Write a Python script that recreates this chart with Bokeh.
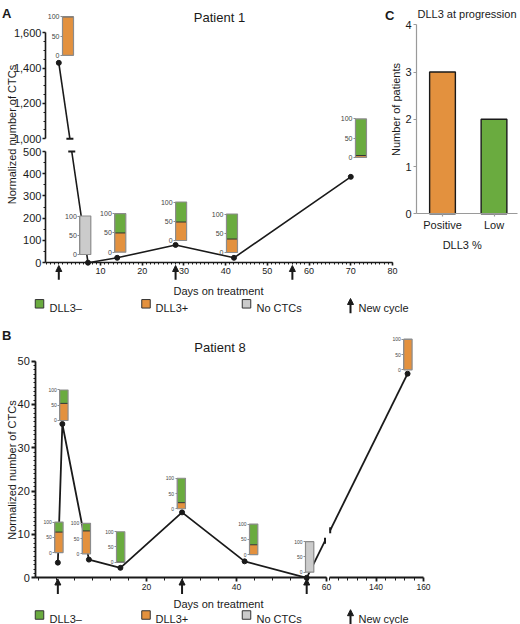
import numpy as np
from bokeh.plotting import figure
from bokeh.models import (Range1d, LinearAxis, FixedTicker, NumeralTickFormatter,
                          Arrow, NormalHead)
from bokeh.core.properties import value
from bokeh.embed import file_html
from bokeh.resources import INLINE

# ---------------- data ----------------
# Patient 1
p1_days = [0, 7, 14, 28, 42, 70]
p1_ctcs = [1430, 0, 22, 80, 22, 386]
p1_dll3_pos = [100, 0, 50, 48, 35, 5]          # % DLL3+ CTCs
p1_no_ctcs = [False, True, False, False, False, False]
p1_cycles = [0, 28, 56]

# Patient 8
p8_days = [0.3, 1.3, 7.2, 14.2, 27.9, 41.8, 55.6, 153.3]
p8_ctcs = [3.5, 35.5, 4.2, 2.3, 15.1, 3.8, 0, 47.1]
p8_dll3_pos = [67, 56, 75, 0, 20, 32, 0, 100]
p8_no_ctcs = [False, False, False, False, False, False, True, False]
p8_cycles = [0.3, 27.9, 55.6]

# DLL3 at progression
c_groups = ["Positive", "Low"]
c_patients = [3, 2]

# tick labels
a_xticks = [10, 20, 30, 40, 50, 60, 70, 80]
a_lo_ticks = [0, 100, 200, 300, 400, 500]
a_hi_ticks = [1000, 1200, 1400, 1600]
b_yticks = [0, 10, 20, 30, 40, 50]
b_xticks_lo = [20, 40, 60]
b_xticks_hi = [140, 160]
c_yticks = [0, 1, 2, 3, 4]
inset_ticks = [0, 50, 100]
legend_labels = ["DLL3\u2013", "DLL3+", "No CTCs", "New cycle"]

# ---------------- styles / geometry ----------------
W, H = 520, 624
FONT = "Liberation Sans"
GREEN = "#6aab3f"
ORANGE = "#e3913e"
GREY = "#cbcbcb"
INK = "#1a1a1a"
FRAME = "#8c8c8c"

# scale anchors: name -> (value, pixel from top-left, pixels per unit)
SC = {
    "ax": (0, 58.3, 4.171),
    "ayl": (0, 262.2, 0.2224),
    "ayh": (1000, 138.3, 0.17667),
    "bxl": (0, 56.0, 4.5),
    "bxh": (120, 328.0, 2.375),
    "by": (0, 577.3, 4.333),
    "cx": (1, 442.0, 51.5),
    "cy": (0, 213.3, 47.25),
}
A_XMIN, B_XMIN = -3.2, -4.6


def to_px(n, v):
    v0, p0, s = SC[n]
    return p0 + (v - v0) * s


def to_py(n, v):
    v0, p0, s = SC[n]
    return p0 - (v - v0) * s


def from_px(n, x):
    v0, p0, s = SC[n]
    return v0 + (x - p0) / s


def from_py(n, y):
    v0, p0, s = SC[n]
    return v0 + (p0 - y) / s


def xrng(n):
    return Range1d(from_px(n, 0), from_px(n, W))


def yrng(n):
    return Range1d(from_py(n, H), from_py(n, 0))


p = figure(width=W, height=H, output_backend="svg", toolbar_location=None,
           x_axis_type=None, y_axis_type=None, title=None,
           x_range=Range1d(0, W), y_range=Range1d(0, H),
           min_border=0, outline_line_color=None,
           background_fill_color="white", border_fill_color="white")

xr = {n: xrng(n) for n in ["ax", "bxl", "bxh", "cx"]}
yr = {n: yrng(n) for n in ["ayl", "ayh", "by", "cy"]}


def style_axis(ax, size, color=INK, lw=1.6, tick_out=3, minor_out=2, standoff=1, label_color=INK):
    ax.axis_line_color = color
    ax.axis_line_width = lw
    ax.major_tick_line_color = color
    ax.major_tick_line_width = lw
    ax.major_tick_out = tick_out
    ax.major_tick_in = 0
    ax.minor_tick_line_color = color
    ax.minor_tick_line_width = 1
    ax.minor_tick_out = minor_out
    ax.minor_tick_in = 0
    ax.major_label_text_font = FONT
    ax.major_label_text_font_size = f"{size}px"
    ax.major_label_text_color = label_color
    ax.major_label_standoff = standoff


def txt(x, y, s, size, align="left", baseline="alphabetic", bold=False, angle=0.0, color=INK):
    # x, y: layout position measured from the top-left corner of the page
    p.text(x=[x], y=[H - y], text=[s], text_font=value(FONT), text_font_size=f"{size}px",
           text_align=align, text_baseline=baseline,
           text_font_style="bold" if bold else "normal", angle=angle, text_color=color)


def interp(pa, pb, t):
    return pa[0] + t * (pb[0] - pa[0]), pa[1] + t * (pb[1] - pa[1])


def inset(xn, yn, day, val, dx, dy, w, h, pct, no_ctc, name, lab_size):
    bx = to_px(xn, day) + dx
    bb = to_py(yn, val) - dy
    SC[name] = (0, bb, h / 100.0)
    yr[name] = yrng(name)
    left, right = from_px(xn, bx), from_px(xn, bx + w)
    kw = dict(x_range_name=xn, y_range_name=name)
    if no_ctc:
        p.quad(left=[left], right=[right], bottom=[0], top=[100], fill_color=GREY,
               line_color=None, **kw)
    else:
        p.quad(left=[left], right=[right], bottom=[0], top=[pct], fill_color=ORANGE,
               line_color=None, **kw)
        p.quad(left=[left], right=[right], bottom=[pct], top=[100], fill_color=GREEN,
               line_color=None, **kw)
        p.segment(x0=[left], y0=[pct], x1=[right], y1=[pct], line_color="#333333",
                  line_width=1, **kw)
    p.quad(left=[left], right=[right], bottom=[0], top=[100], fill_color=None,
           line_color=FRAME, line_width=1.2, **kw)
    ax = LinearAxis(x_range_name=xn, y_range_name=name, fixed_location=left,
                    bounds=(0, 100), ticker=FixedTicker(ticks=inset_ticks, minor_ticks=[]))
    style_axis(ax, lab_size, color=FRAME, lw=1, tick_out=2, standoff=1, label_color="#444444")
    p.add_layout(ax, "left")


# ======================= Panel A: Patient 1 =======================
hi = [v > 750 for v in p1_ctcs]
pa = (to_px("ax", p1_days[0]), to_py("ayh", p1_ctcs[0]))
pb = (to_px("ax", p1_days[1]), to_py("ayl", p1_ctcs[1]))
t_hi = (to_py("ayh", 1000) - pa[1]) / (pb[1] - pa[1])
t_lo = (to_py("ayl", 500) - pa[1]) / (pb[1] - pa[1])
brk_hi_day = from_px("ax", interp(pa, pb, t_hi)[0])
brk_lo_day = from_px("ax", interp(pa, pb, t_lo)[0])

p.line([p1_days[0], brk_hi_day], [p1_ctcs[0], 1000], x_range_name="ax", y_range_name="ayh",
       line_color=INK, line_width=1.6)
p.line([brk_lo_day] + p1_days[1:], [500] + p1_ctcs[1:], x_range_name="ax", y_range_name="ayl",
       line_color=INK, line_width=1.6)
p.scatter([brk_hi_day], [1000], marker="dash", size=7, line_width=2, line_color=INK,
          x_range_name="ax", y_range_name="ayh")
p.scatter([brk_lo_day], [500], marker="dash", size=7, line_width=2, line_color=INK,
          x_range_name="ax", y_range_name="ayl")
p.scatter([d for d, h_ in zip(p1_days, hi) if h_], [v for v, h_ in zip(p1_ctcs, hi) if h_],
          size=5, color=INK, x_range_name="ax", y_range_name="ayh")
p.scatter([d for d, h_ in zip(p1_days, hi) if not h_], [v for v, h_ in zip(p1_ctcs, hi) if not h_],
          size=5, color=INK, x_range_name="ax", y_range_name="ayl")

A_dx = [3.7, -8.2, -2.4, 0.0, -7.5, 4.7]
A_dy = [7.5, 8.2, 5.6, 4.4, 5.3, 19.4]
for i in range(len(p1_days)):
    inset("ax", "ayh" if hi[i] else "ayl", p1_days[i], p1_ctcs[i], A_dx[i], A_dy[i], 11, 38.5,
          p1_dll3_pos[i], p1_no_ctcs[i], f"iA{i}", 7)

ax = LinearAxis(x_range_name="ax", y_range_name="ayl", fixed_location=0, bounds=(A_XMIN, 80),
                ticker=FixedTicker(ticks=a_xticks, minor_ticks=list(range(-3, 81))))
style_axis(ax, 9, standoff=2)
p.add_layout(ax, "below")
ax = LinearAxis(x_range_name="ax", y_range_name="ayl", fixed_location=A_XMIN, bounds=(0, 500),
                ticker=FixedTicker(ticks=a_lo_ticks, minor_ticks=[50, 150, 250, 350, 450]))
style_axis(ax, 11)
p.add_layout(ax, "left")
ax = LinearAxis(x_range_name="ax", y_range_name="ayh", fixed_location=A_XMIN, bounds=(1000, 1600),
                ticker=FixedTicker(ticks=a_hi_ticks,
                                   minor_ticks=[1050, 1100, 1150, 1250, 1300, 1350, 1450, 1500, 1550]),
                formatter=NumeralTickFormatter(format="0,0"))
style_axis(ax, 11)
p.add_layout(ax, "left")

for d in p1_cycles:
    p.add_layout(Arrow(end=NormalHead(size=6, fill_color=INK, line_color=INK, line_width=1),
                       x_start=d, y_start=from_py("ayl", 279.3), x_end=d, y_end=from_py("ayl", 265),
                       x_range_name="ax", y_range_name="ayl", line_width=2, line_color=INK))

# ======================= Panel B: Patient 8 =======================
n_lo = 7
qa = (to_px("bxl", p8_days[6]), to_py("by", p8_ctcs[6]))
qb = (to_px("bxh", p8_days[7]), to_py("by", p8_ctcs[7]))
x_end_lo = to_px("bxl", 60) - 1.5
x_beg_hi = to_px("bxh", 120.5) + 0.5
lo_pt = interp(qa, qb, (x_end_lo - qa[0]) / (qb[0] - qa[0]))
hi_pt = interp(qa, qb, (x_beg_hi - qa[0]) / (qb[0] - qa[0]))
brk_lo = (from_px("bxl", lo_pt[0]), from_py("by", lo_pt[1]))
brk_hi = (from_px("bxh", hi_pt[0]), from_py("by", hi_pt[1]))

p.line(p8_days[:n_lo] + [brk_lo[0]], p8_ctcs[:n_lo] + [brk_lo[1]], x_range_name="bxl",
       y_range_name="by", line_color=INK, line_width=1.8)
p.line([brk_hi[0], p8_days[7]], [brk_hi[1], p8_ctcs[7]], x_range_name="bxh", y_range_name="by",
       line_color=INK, line_width=1.8)
p.scatter([brk_lo[0]], [brk_lo[1]], marker="dash", angle=np.pi / 2, size=6, line_width=2,
          line_color=INK, x_range_name="bxl", y_range_name="by")
p.scatter([brk_hi[0]], [brk_hi[1]], marker="dash", angle=np.pi / 2, size=6, line_width=2,
          line_color=INK, x_range_name="bxh", y_range_name="by")
p.scatter(p8_days[:n_lo], p8_ctcs[:n_lo], size=5, color=INK, x_range_name="bxl", y_range_name="by")
p.scatter(p8_days[n_lo:], p8_ctcs[n_lo:], size=5, color=INK, x_range_name="bxh", y_range_name="by")

B_dx = [-3.05, -2.6, -6.7, -3.9, -4.9, 4.9, -1.2, -3.8]
B_dy = [10.1, 3.5, 5.8, 5.6, 3.6, 6.8, 5.6, 3.9]
for i in range(len(p8_days)):
    inset("bxl" if i < n_lo else "bxh", "by", p8_days[i], p8_ctcs[i], B_dx[i], B_dy[i], 8.3, 30.5,
          p8_dll3_pos[i], p8_no_ctcs[i], f"iB{i}", 5)

ax = LinearAxis(x_range_name="bxl", y_range_name="by", fixed_location=B_XMIN, bounds=(0, 50),
                ticker=FixedTicker(ticks=b_yticks, minor_ticks=list(range(0, 51))))
style_axis(ax, 11, lw=1.8, tick_out=4, minor_out=2, standoff=2)
p.add_layout(ax, "left")
ax = LinearAxis(x_range_name="bxl", y_range_name="by", fixed_location=0, bounds=(B_XMIN, 60),
                ticker=FixedTicker(ticks=b_xticks_lo, minor_ticks=list(range(-4, 61, 4))))
style_axis(ax, 8.5, lw=1.8, tick_out=4, minor_out=3, standoff=2)
p.add_layout(ax, "below")
ax = LinearAxis(x_range_name="bxh", y_range_name="by", fixed_location=0, bounds=(120.5, 160),
                ticker=FixedTicker(ticks=b_xticks_hi, minor_ticks=[120.5] + list(range(124, 160, 4))))
style_axis(ax, 8.5, lw=1.8, tick_out=4, minor_out=3, standoff=2)
p.add_layout(ax, "below")

for d in p8_cycles:
    p.add_layout(Arrow(end=NormalHead(size=6, fill_color=INK, line_color=INK, line_width=1),
                       x_start=d, y_start=from_py("by", 593.5), x_end=d, y_end=from_py("by", 578.5),
                       x_range_name="bxl", y_range_name="by", line_width=2, line_color=INK))

# ======================= Panel C: DLL3 at progression =======================
c_x = [1, 2]
p.vbar(x=c_x, top=c_patients, width=0.5, bottom=0, fill_color=[ORANGE, GREEN],
       line_color=INK, line_width=1.4, x_range_name="cx", y_range_name="cy")
c_left = from_px("cx", 416)
ax = LinearAxis(x_range_name="cx", y_range_name="cy", fixed_location=c_left, bounds=(0, 4),
                ticker=FixedTicker(ticks=c_yticks, minor_ticks=[]))
style_axis(ax, 11, color="#9a9a9a", lw=1.2, tick_out=3, standoff=2)
p.add_layout(ax, "left")
ax = LinearAxis(x_range_name="cx", y_range_name="cy", fixed_location=0,
                bounds=(c_left, from_px("cx", 517)),
                ticker=FixedTicker(ticks=c_x, minor_ticks=[]),
                major_label_overrides={c_x[i]: c_groups[i] for i in range(len(c_x))})
style_axis(ax, 11, color="#9a9a9a", lw=1.2, tick_out=3, standoff=2)
p.add_layout(ax, "below")

# ======================= texts =======================
txt(1.5, 12.5, "A", 13, bold=True)
txt(1.5, 334.5, "B", 13, bold=True)
txt(384.5, 15, "C", 13, bold=True)
txt(219, 16.5, "Patient 1", 13, align="center")
txt(219.5, 346.7, "Patient 8", 13, align="center")
txt(466.5, 13.5, "DLL3 at progression", 11, align="center")
txt(11.0, 134, "Normalized number of CTCs", 11, align="center", angle=np.pi / 2)
txt(11.0, 469.5, "Normalized number of CTCs", 11, align="center", angle=np.pi / 2)
txt(395.5, 109, "Number of patients", 11, align="center", angle=np.pi / 2)
txt(218, 290, "Days on treatment", 11, align="center")
txt(218, 603, "Days on treatment", 11, align="center")
txt(461.7, 244, "DLL3 %", 11, align="center")

# legends
for ly in [303.3, 614.5]:
    p.scatter([39, 145.5, 246], [H - ly] * 3, marker="square", size=8.5,
              fill_color=[GREEN, ORANGE, GREY], line_color="#333333", line_width=1)
    for lx, lab in zip([49, 155, 256, 358], legend_labels):
        txt(lx, ly + 4, lab, 11)
    p.add_layout(Arrow(end=NormalHead(size=6, fill_color=INK, line_color=INK, line_width=1),
                       x_start=350, y_start=H - (ly + 9.5), x_end=350, y_end=H - (ly - 5.3),
                       line_width=2, line_color=INK))

p.extra_x_ranges = xr
p.extra_y_ranges = yr

open("out.html", "w").write(file_html(p, INLINE))
